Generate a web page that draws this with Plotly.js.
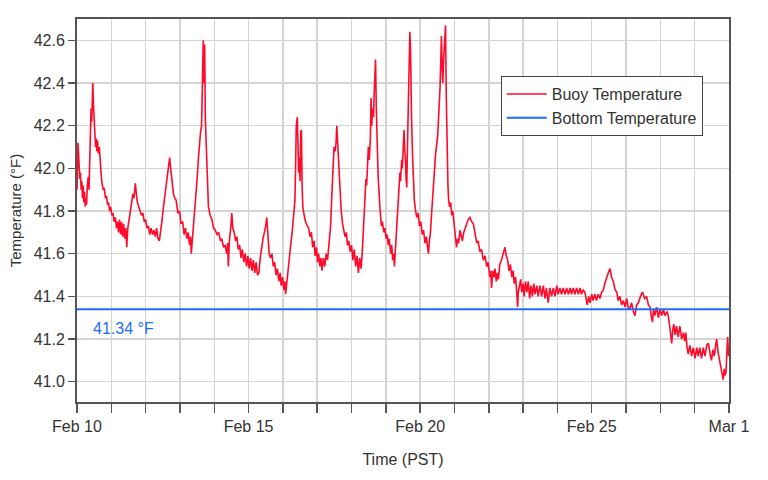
<!DOCTYPE html>
<html>
<head>
<meta charset="utf-8">
<script src="https://cdn.plot.ly/plotly-3.0.1.min.js"></script>
<style>html,body{margin:0;padding:0;background:#fff;}#chart{width:768px;height:480px;}</style>
</head>
<body>
<div id="chart"></div>
<script>
// Days since Feb 10 (PST)
const days = [0.00,0.03,0.06,0.08,0.10,0.12,0.14,0.16,0.18,0.20,0.22,0.24,0.26,0.28,0.30,0.33,0.35,0.37,0.39,0.41,0.43,0.45,0.46,0.48,0.50,0.52,0.54,0.56,0.58,0.60,0.62,0.65,0.68,0.71,0.73,0.76,0.79,0.83,0.86,0.89,0.92,0.95,0.98,1.02,1.05,1.08,1.12,1.15,1.18,1.21,1.24,1.27,1.30,1.33,1.36,1.39,1.42,1.45,1.48,1.52,1.56,1.60,1.63,1.66,1.70,1.73,1.76,1.80,1.84,1.88,1.92,1.96,2.00,2.04,2.08,2.12,2.16,2.20,2.24,2.28,2.32,2.36,2.40,2.44,2.48,2.52,2.56,2.60,2.64,2.67,2.70,2.73,2.77,2.81,2.85,2.89,2.94,2.99,3.03,3.08,3.12,3.16,3.20,3.24,3.28,3.31,3.33,3.36,3.40,3.45,3.50,3.54,3.58,3.60,3.63,3.65,3.68,3.70,3.72,3.74,3.77,3.80,3.83,3.88,3.93,3.98,4.03,4.08,4.13,4.18,4.22,4.27,4.32,4.36,4.39,4.41,4.44,4.48,4.51,4.54,4.58,4.62,4.66,4.70,4.74,4.78,4.82,4.86,4.90,4.94,4.98,5.02,5.06,5.10,5.14,5.18,5.22,5.26,5.30,5.34,5.38,5.42,5.46,5.50,5.53,5.56,5.60,5.64,5.68,5.72,5.76,5.80,5.84,5.88,5.92,5.95,5.99,6.03,6.06,6.08,6.12,6.17,6.22,6.27,6.31,6.35,6.37,6.39,6.42,6.44,6.46,6.48,6.50,6.52,6.54,6.56,6.58,6.62,6.66,6.71,6.75,6.79,6.83,6.87,6.91,6.94,6.98,7.01,7.04,7.08,7.11,7.14,7.18,7.22,7.26,7.30,7.35,7.39,7.42,7.44,7.47,7.49,7.52,7.55,7.57,7.60,7.63,7.67,7.70,7.74,7.77,7.81,7.85,7.88,7.92,7.96,8.00,8.04,8.08,8.12,8.16,8.20,8.24,8.28,8.31,8.34,8.37,8.39,8.42,8.44,8.47,8.49,8.52,8.55,8.57,8.59,8.61,8.64,8.66,8.68,8.70,8.72,8.73,8.76,8.78,8.80,8.83,8.87,8.90,8.94,8.97,9.01,9.04,9.07,9.10,9.14,9.17,9.20,9.23,9.25,9.28,9.32,9.36,9.39,9.41,9.43,9.46,9.48,9.51,9.53,9.55,9.57,9.59,9.61,9.63,9.65,9.67,9.70,9.72,9.73,9.75,9.78,9.80,9.83,9.86,9.90,9.94,9.98,10.02,10.06,10.10,10.14,10.18,10.21,10.24,10.27,10.30,10.33,10.35,10.38,10.41,10.43,10.45,10.48,10.51,10.54,10.56,10.58,10.60,10.62,10.64,10.66,10.68,10.70,10.72,10.74,10.76,10.77,10.79,10.81,10.83,10.86,10.89,10.92,10.95,10.99,11.03,11.06,11.09,11.12,11.16,11.19,11.23,11.27,11.31,11.35,11.40,11.45,11.50,11.55,11.60,11.65,11.69,11.74,11.79,11.84,11.89,11.94,11.98,12.03,12.06,12.08,12.12,12.16,12.18,12.22,12.25,12.28,12.32,12.37,12.42,12.47,12.51,12.55,12.59,12.63,12.67,12.71,12.74,12.78,12.81,12.84,12.86,12.89,12.93,12.96,13.00,13.03,13.07,13.11,13.15,13.19,13.23,13.27,13.31,13.35,13.40,13.44,13.49,13.54,13.59,13.64,13.68,13.73,13.78,13.83,13.88,13.93,13.98,14.02,14.07,14.12,14.17,14.22,14.27,14.32,14.37,14.41,14.46,14.51,14.56,14.61,14.66,14.70,14.75,14.80,14.84,14.87,14.91,14.95,15.00,15.04,15.09,15.14,15.19,15.24,15.29,15.34,15.38,15.43,15.48,15.53,15.58,15.63,15.68,15.73,15.77,15.82,15.87,15.92,15.97,16.02,16.06,16.11,16.16,16.21,16.26,16.31,16.36,16.42,16.48,16.54,16.60,16.65,16.70,16.74,16.77,16.80,16.84,16.89,16.94,16.99,17.04,17.09,17.13,17.20,17.24,17.28,17.31,17.33,17.36,17.39,17.43,17.47,17.52,17.57,17.62,17.67,17.71,17.74,17.78,17.81,17.86,17.91,17.96,18.01,18.06,18.10,18.15,18.20,18.25,18.30,18.35,18.40,18.45,18.49,18.53,18.57,18.61,18.64,18.68,18.72,18.76,18.79,18.83,18.86,18.88,18.91,18.94,18.96,18.99];

const buoyTemp = [41.90,42.12,42.02,41.95,41.98,41.90,41.94,41.86,41.92,41.84,41.89,41.82,41.86,41.83,41.92,41.96,41.90,42.05,42.17,42.28,42.22,42.35,42.40,42.30,42.25,42.15,42.10,42.14,42.08,42.13,42.07,42.10,42.01,41.96,41.93,41.90,41.91,41.86,41.87,41.83,41.84,41.80,41.82,41.78,41.79,41.75,41.77,41.72,41.75,41.70,41.76,41.69,41.75,41.68,41.74,41.67,41.72,41.63,41.72,41.76,41.80,41.85,41.88,41.86,41.93,41.88,41.84,41.82,41.80,41.78,41.79,41.75,41.76,41.72,41.73,41.69,41.72,41.69,41.71,41.68,41.72,41.67,41.66,41.70,41.76,41.82,41.87,41.92,41.98,42.00,42.05,42.00,41.93,41.88,41.86,41.85,41.79,41.80,41.74,41.75,41.69,41.72,41.67,41.70,41.64,41.68,41.60,41.66,41.72,41.82,41.95,42.05,42.15,42.17,42.20,42.35,42.60,42.40,42.58,42.23,42.05,41.90,41.82,41.78,41.76,41.72,41.71,41.69,41.70,41.66,41.67,41.63,41.64,41.60,41.65,41.54,41.66,41.72,41.79,41.72,41.70,41.66,41.68,41.62,41.64,41.58,41.62,41.56,41.60,41.54,41.59,41.53,41.58,41.52,41.57,41.51,41.56,41.50,41.51,41.58,41.63,41.67,41.70,41.73,41.77,41.70,41.60,41.58,41.60,41.54,41.56,41.50,41.53,41.47,41.51,41.45,41.49,41.43,41.47,41.41,41.48,41.55,41.63,41.70,41.78,41.85,42.00,42.20,42.24,42.10,41.98,42.05,41.94,42.17,42.18,41.92,41.82,41.78,41.75,41.73,41.72,41.68,41.70,41.63,41.66,41.59,41.63,41.56,41.60,41.54,41.58,41.52,41.58,41.54,41.60,41.57,41.65,41.73,41.85,41.91,42.02,42.10,42.08,42.12,42.20,42.10,41.98,41.85,41.80,41.74,41.72,41.68,41.70,41.64,41.66,41.61,41.64,41.57,41.62,41.54,41.59,41.51,41.58,41.53,41.60,41.70,41.83,41.88,41.95,41.92,42.05,42.10,42.04,42.15,42.33,42.20,42.28,42.24,42.35,42.42,42.51,42.30,42.18,42.05,41.95,41.88,41.81,41.73,41.75,41.70,41.72,41.67,41.69,41.64,41.67,41.60,41.64,41.57,41.60,41.54,41.62,41.72,41.88,41.92,41.98,41.94,42.04,42.00,42.14,42.18,42.08,42.05,41.95,41.91,42.10,42.25,42.40,42.64,42.55,42.40,42.23,42.05,41.95,41.85,41.81,41.77,41.79,41.73,41.75,41.69,41.71,41.65,41.68,41.62,41.60,41.66,41.70,41.78,41.82,41.90,41.98,42.02,42.07,42.12,42.15,42.25,42.30,42.38,42.50,42.62,42.48,42.40,42.50,42.55,42.60,42.67,42.35,42.23,42.05,41.92,41.85,41.82,41.84,41.78,41.80,41.74,41.70,41.63,41.67,41.65,41.71,41.68,41.66,41.70,41.72,41.74,41.76,41.77,41.75,41.74,41.69,41.65,41.66,41.61,41.62,41.57,41.59,41.54,41.56,41.49,41.52,41.44,41.52,41.49,41.53,41.47,41.51,41.48,41.55,41.57,41.60,41.63,41.59,41.57,41.52,41.55,41.49,41.52,41.46,41.49,41.43,41.35,41.42,41.44,41.48,41.42,41.46,41.40,41.47,41.42,41.47,41.39,41.45,41.40,41.46,41.41,41.45,41.40,41.45,41.40,41.45,41.39,41.44,41.37,41.44,41.40,41.44,41.40,41.45,41.41,41.44,41.41,41.44,41.41,41.44,41.41,41.44,41.41,41.44,41.41,41.44,41.41,41.44,41.41,41.43,41.42,41.37,41.36,41.40,41.37,41.41,41.38,41.41,41.38,41.41,41.39,41.42,41.43,41.46,41.49,41.51,41.53,41.49,41.47,41.43,41.42,41.38,41.40,41.36,41.38,41.35,41.39,41.35,41.34,41.37,41.33,41.31,41.36,41.37,41.40,41.42,41.39,41.40,41.36,41.35,41.30,41.28,41.34,41.31,41.35,41.30,41.34,41.31,41.34,41.31,41.33,41.30,41.25,41.22,41.18,41.24,41.27,41.22,41.26,41.21,41.26,41.20,41.23,41.19,41.23,41.16,41.13,41.17,41.12,41.16,41.11,41.16,41.12,41.16,41.11,41.16,41.12,41.17,41.18,41.13,41.10,41.15,41.12,41.17,41.20,41.14,41.10,41.06,41.05,41.01,41.06,41.03,41.04,41.12,41.21,41.12];

const bottomDays = [0, 19];
const bottomTemp = [41.34, 41.34];

const xTickVals = [0, 5, 10, 15, 19];
const xTickText = ['Feb 10', 'Feb 15', 'Feb 20', 'Feb 25', 'Mar 1'];

const seriesNames = ['Buoy Temperature', 'Bottom Temperature'];
const bottomLabel = '41.34 °F';

const FONT = 'Liberation Sans, Arial, Helvetica, sans-serif';
const RED = '#ff0a2a';
const BLUE = '#1f6bff';
const AXIS = '#555555';
const GRID = '#d4d4d4';
const TXT = '#333333';

const traces = [
  {x: days, y: buoyTemp, name: seriesNames[0], type: 'scatter', mode: 'lines',
   line: {color: RED, width: 1.6}},
  {x: bottomDays, y: bottomTemp, name: seriesNames[1], type: 'scatter', mode: 'lines',
   line: {color: BLUE, width: 2}}
];

const layout = {
  width: 768, height: 480,
  margin: {l: 77, r: 39, t: 19, b: 78},
  paper_bgcolor: '#ffffff', plot_bgcolor: '#ffffff',
  font: {family: FONT, size: 16, color: TXT},
  showlegend: true,
  legend: {x: 0.65, y: 0.851, xanchor: 'left', yanchor: 'top',
    bgcolor: '#ffffff', bordercolor: '#444444', borderwidth: 1,
    font: {family: FONT, size: 16, color: TXT},
    itemwidth: 40, tracegroupgap: 0},
  xaxis: {
    range: [0, 19], type: 'linear',
    tickmode: 'array', tickvals: xTickVals, ticktext: xTickText,
    ticks: 'outside', ticklen: 9, tickwidth: 1.5, tickcolor: AXIS,
    showgrid: true, gridcolor: GRID, gridwidth: 1.5,
    showline: true, linecolor: AXIS, linewidth: 2, mirror: true,
    zeroline: false,
    minor: {dtick: 1, tick0: 0, ticks: 'outside', ticklen: 9, tickwidth: 1.5, tickcolor: AXIS,
      showgrid: true, gridcolor: GRID, gridwidth: 1.5},
    tickfont: {family: FONT, size: 16, color: TXT},
    title: {text: 'Time (PST)', font: {family: FONT, size: 16, color: TXT}, standoff: 20}
  },
  yaxis: {
    range: [40.905, 42.70],
    tickmode: 'linear', tick0: 41.0, dtick: 0.2, tickformat: '.1f',
    ticks: 'outside', ticklen: 7, tickwidth: 1.5, tickcolor: AXIS,
    showgrid: true, gridcolor: GRID, gridwidth: 1.5,
    showline: true, linecolor: AXIS, linewidth: 2, mirror: true,
    zeroline: false,
    tickfont: {family: FONT, size: 16, color: TXT},
    title: {text: 'Temperature (°F)', font: {family: FONT, size: 15, color: TXT}, standoff: 8}
  },
  annotations: [{
    xref: 'paper', yref: 'y', x: 0.0215, y: 41.25, xanchor: 'left', yanchor: 'middle',
    text: bottomLabel, showarrow: false,
    font: {family: FONT, size: 16, color: BLUE}
  }]
};

Plotly.newPlot('chart', traces, layout, {staticPlot: true, displayModeBar: false});
</script>
</body>
</html>
